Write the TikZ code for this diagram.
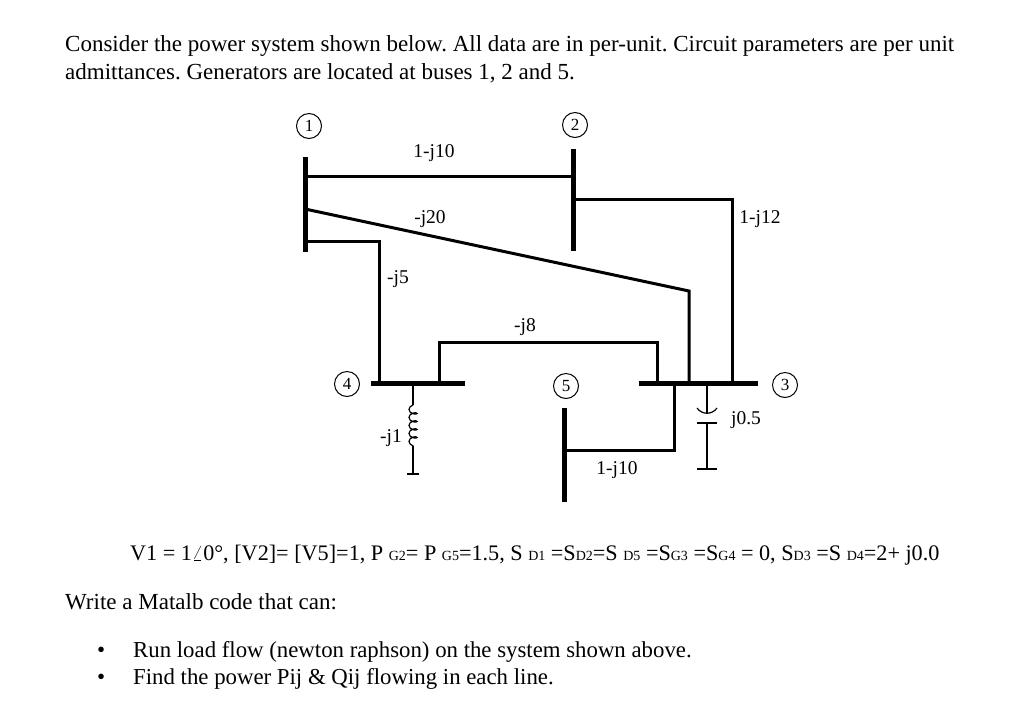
\documentclass[tikz,border=0pt]{standalone}
\usepackage{fontspec}
\setmainfont{Liberation Serif}
\usetikzlibrary{decorations.pathmorphing}
\begin{document}
\frenchspacing
\begin{tikzpicture}[x=1pt,y=-1pt,
  busbar/.style={line width=5pt},
  wire/.style={line width=3pt},
  thin/.style={line width=1.2pt},
  busnum/.style={draw,circle,line width=1pt,inner sep=0pt,minimum size=25pt,font=\fontsize{17}{17}\selectfont},
  lbl/.style={font=\fontsize{19.5}{20}\selectfont,inner sep=0pt},
  txt/.style={font=\fontsize{23}{26}\selectfont,anchor=base west,inner sep=0pt}]
\useasboundingbox[fill=white] (0,0) rectangle (1024,724);
\newcommand\sbs[1]{{\fontsize{14}{14}\selectfont #1}}
% text
\node[txt] (t1) at (65,51) {Consider the power system shown below. All data are in per-unit. Circuit parameters are per unit};
\node[txt] (t2) at (65,79) {admittances. Generators are located at buses 1, 2 and 5.};
\node[txt,font=\fontsize{22.2}{26}\selectfont] (t3) at (130,560) {V1 = 1\(\angle\)0°, [V2]= [V5]=1, P \sbs{G2}= P \sbs{G5}=1.5, S \sbs{D1} =S\sbs{D2}=S \sbs{D5} =S\sbs{G3} =S\sbs{G4} = 0, S\sbs{D3} =S \sbs{D4}=2+ j0.0};
\node[txt] (t4) at (65,609) {Write a Matalb code that can:};
\node[txt] (b1) at (97,657) {\textbullet};
\node[txt,font=\fontsize{22.8}{26}\selectfont] (t5) at (133,657) {Run load flow (newton raphson) on the system shown above.};
\node[txt] (b2) at (97,684) {\textbullet};
\node[txt,font=\fontsize{22.8}{26}\selectfont] (t6) at (133,684) {Find the power Pij \& Qij flowing in each line.};
% buses
\draw[busbar] (305,157) -- (305,252);
\draw[busbar] (573,149) -- (573,251);
\draw[busbar] (371,383) -- (465,383);
\draw[busbar] (639,383) -- (758,383);
\draw[busbar] (564,408) -- (564,502);
\node[busnum] (n1) at (309,126) {1};
\node[busnum] (n2) at (575,125) {2};
\node[busnum] (n3) at (785,385) {3};
\node[busnum] (n4) at (347,384) {4};
\node[busnum] (n5) at (566,386) {5};
% lines
\draw[wire] (305,176) -- (573,176);
\draw[wire] (573,199) -- (732,199) -- (732,383);
\draw[wire] (305,209) -- (689,291) -- (689,383);
\draw[wire] (305,241) -- (379,241) -- (379,383);
\draw[wire] (439,383) -- (439,342) -- (657,342) -- (657,383);
\draw[wire] (564,450) -- (674,450) -- (674,383);
% inductor
\draw[thin] (413,383) -- (413,405);
\draw[thin,decorate,decoration={coil,aspect=0.6,amplitude=4pt,segment length=8pt,mirror}] (413,405) -- (413,446);
\draw[thin] (413,446) -- (413,474);
\draw[line width=2pt] (407,474) -- (419,474);
% capacitor
\draw[thin] (707,383) -- (707,414);
\draw[thin] (697,408) .. controls (702,415) and (712,415) .. (717,408);
\draw[thin] (697,423) -- (717,423);
\draw[thin] (707,423) -- (707,469);
\draw[line width=1.6pt] (697,469) -- (717,469);
% labels
\node[lbl] (l1) at (434,153) {1-j10};
\node[lbl] (l2) at (430,219) {-j20};
\node[lbl] (l3) at (760,219) {1-j12};
\node[lbl] (l4) at (398,279) {-j5};
\node[lbl] (l5) at (525,327) {-j8};
\node[lbl] (l6) at (746,420) {j0.5};
\node[lbl] (l7) at (391,438) {-j1};
\node[lbl] (l8) at (617,470) {1-j10};
\end{tikzpicture}
\end{document}
